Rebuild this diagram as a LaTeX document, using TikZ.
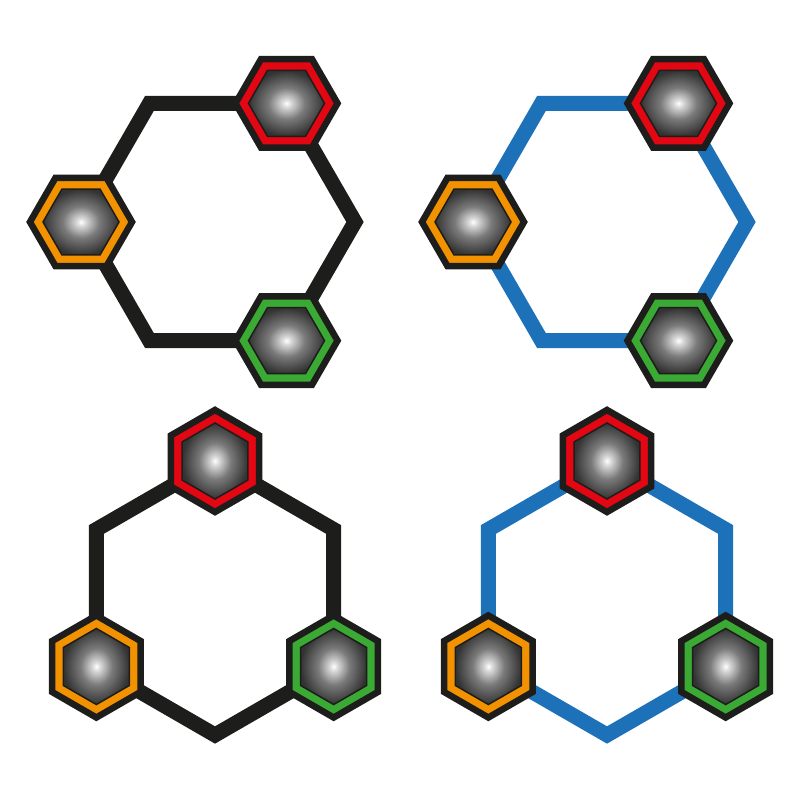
\documentclass[tikz,border=0pt]{standalone}
\usetikzlibrary{shapes.geometric}

\definecolor{hexblack}{HTML}{1D1D1B}
\definecolor{hexred}{HTML}{E30613}
\definecolor{hexorange}{HTML}{F39200}
\definecolor{hexgreen}{HTML}{3AAA35}
\definecolor{ringblue}{HTML}{1D71B8}

\pgfdeclareradialshading{hexglow}{\pgfpoint{0bp}{0bp}}{color(0bp)=(white); color(3bp)=(white!85!black); color(12bp)=(black!52); color(25bp)=(black!80); color(50bp)=(black!80)}

\tikzset{
  ring/.style = {draw=#1, line width=0.15cm},
  hexout/.style = {regular polygon, regular polygon sides=6, inner sep=0pt,
    minimum size=1.02cm, draw=hexblack, line width=0.065cm, fill=#1},
  hexin/.style = {regular polygon, regular polygon sides=6, inner sep=0pt,
    minimum size=0.76cm, draw=hexblack, line width=0.015cm, shade, shading=hexglow}
}

\begin{document}
\begin{tikzpicture}[x=0.01cm, y=0.01cm]
\useasboundingbox (0,0) rectangle (800,800);

% four rings: centre x / centre y / ring colour / turn / name
\foreach \cx/\cy/\col/\rot/\nm in {218/578/hexblack/0/a, 610/578/ringblue/0/b,
                                   215/202/hexblack/30/c, 607/202/ringblue/30/d}{
  \begin{scope}[shift={(\cx,\cy)}]
    \foreach \k in {0,...,5}
      \coordinate (\nm\k) at ({\rot+\k*60}:137);
  \end{scope}
  \draw[ring=\col] (\nm0) -- (\nm1) -- (\nm2) -- (\nm3) -- (\nm4) -- (\nm5) -- cycle;
  % corner hexagons
  \node[hexout=hexred, shape border rotate=\rot] (\nm-red) at (\nm1) {};
  \node[hexin, shape border rotate=\rot] (\nm-red-in) at (\nm-red.center) {};
  \node[hexout=hexorange, shape border rotate=\rot] (\nm-orange) at (\nm3) {};
  \node[hexin, shape border rotate=\rot] (\nm-orange-in) at (\nm-orange.center) {};
  \node[hexout=hexgreen, shape border rotate=\rot] (\nm-green) at (\nm5) {};
  \node[hexin, shape border rotate=\rot] (\nm-green-in) at (\nm-green.center) {};
}
\end{tikzpicture}
\end{document}
